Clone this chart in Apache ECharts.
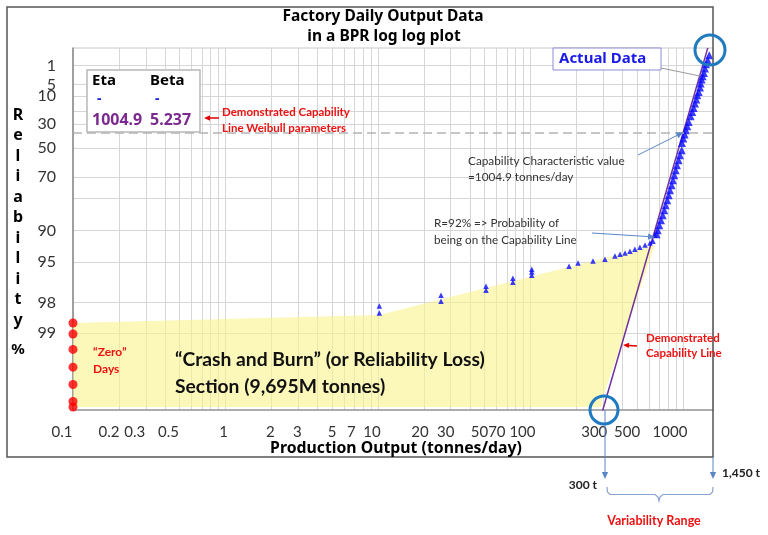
<!DOCTYPE html>
<html><head><meta charset="utf-8">
<script src="https://cdn.jsdelivr.net/npm/echarts@6/dist/echarts.min.js"></script>
<style>html,body{margin:0;padding:0;background:#fff}#c{width:768px;height:535px}</style>
</head><body><div id="c"></div>
<script>
// ---------------- data ----------------
const xGridValues = [0.1,0.2,0.3,0.4,0.5,0.6,0.7,0.8,0.9,1,2,3,4,5,6,7,8,9,10,20,30,40,50,60,70,80,90,100,200,300,400,500,600,700,800,900,1000];
const xTickLabels = [0.1,0.2,0.3,0.5,1,2,3,5,7,10,20,30,50,70,100,300,500,1000];
const yGridValues = [1,5,10,20,30,50,70,80,90,95,98,99];          // reliability %
const yTickLabels = [1,5,10,30,50,70,90,95,98,99];
// actual daily output (tonnes/day) and its plotted reliability (%)
const actualOutput = [1488,1452,1415,1394,1373,1346,1326,1306,1293,1268,1241,1223,1198,1175,1151,1123,1090,1067,1046,1026,1005,985,
  981,956,937,913,896,877,860,843,822,806,789,770,754,736,718,699,683,672,655,
  636,608,564,522,484,449,417,387,358,308,257,205,179,102,102,102,76.7,76.7,51.1,51.1,25.9,25.9,10.2,10.2];
const actualReliability = [0.295,0.554,0.873,1.362,2.055,2.727,3.544,4.746,6.195,8.088,9.712,12.08,14.53,17.49,20.37,23.64,28.2,31.75,35.1,38.72,42.07,45.71,
  51.56,55.39,59.04,62.5,65.77,68.81,71.65,74.28,76.7,78.93,80.98,82.85,84.55,86.1,87.5,88.77,89.92,90.76,90.97,
  92.1,92.4,92.7,93.05,93.35,93.64,93.9,94.05,94.3,94.7,94.9,95.1,95.45,95.74,96.0,96.28,96.52,96.82,97.1,97.35,97.63,97.93,98.15,98.42];
const zeroDayOutput = [0.1,0.1,0.1,0.1,0.1,0.1,0.1];
const zeroDayReliability = [98.74,99.02,99.31,99.54,99.69,99.79,99.815];
const lossAreaOutput = [0.1,10.15,655,294.5,294.5,0.1];
const lossAreaReliability = [98.74,98.49,92.75,99.78,99.815,99.815];
const capabilityOutput = [297,1455];
const capabilityReliability = [99.83,0.1];
const etaReliability = 36.79;
const etaValue = '1004.9', betaValue = '5.237';

// ---------------- helpers ----------------
const L10 = v => Math.log10(v);
const W = r => Math.log(-Math.log(r / 100));
const FL = 'Lato', FT = 'Noto Sans';
const xShift = {0.1:-11,0.2:-10,0.3:-11,0.5:-11,1:-2,2:-1,3:-1,5:0,7:-3,10:-6,20:-4,30:-5,50:-5,70:-10,100:-8,300:-9,500:-10,1000:-13};
const xRich = {};
xTickLabels.forEach((v,i)=>{ xRich['s'+i] = {fontFamily:FL,fontSize:15,color:'#333',padding:[0,2*Math.abs(xShift[v]||0),0,0]}; });

const chart = echarts.init(document.getElementById('c'));
const zip = (a,b,fx,fy) => a.map((v,i)=>[fx(v), fy(b[i])]);

chart.setOption({
  animation:false,
  backgroundColor:'#fff',
  grid:{left:73, top:48, right:55, bottom:125, show:true, borderColor:'#c8c8c8', borderWidth:1, outerBoundsMode:'none', containLabel:false},
  xAxis:{type:'value', min:-1, max:3.197,
    axisLine:{show:true, onZero:false, lineStyle:{color:'#9a9a9a', width:1.5}},
    axisTick:{show:false, customValues:xGridValues.map(L10)},
    splitLine:{show:true, lineStyle:{color:'#d6d6d6', width:1}},
    axisLabel:{customValues:xTickLabels.map(L10), margin:15, hideOverlap:false,
      formatter:(v)=>{ const i = xTickLabels.findIndex(t=>Math.abs(L10(t)-v)<1e-6); return i<0?'':'{s'+i+'|'+xTickLabels[i]+'}'; },
      rich:xRich, fontFamily:FL, fontSize:15, color:'#333'}
  },
  yAxis:{type:'value', min:-6.36, max:1.93,
    axisLine:{show:true, onZero:false, lineStyle:{color:'#8a8a8a', width:1.5}},
    axisTick:{show:false, customValues:yGridValues.map(W)},
    splitLine:{show:true, lineStyle:{color:'#d6d6d6', width:1}},
    axisLabel:{customValues:yTickLabels.map(W), margin:17, hideOverlap:false,
      formatter:(v)=>{ const t = yTickLabels.find(t=>Math.abs(W(t)-v)<1e-6); return t===undefined?'':String(t); },
      fontFamily:FL, fontSize:16, color:'#333'}
  },
  series:[
    {type:'custom', z:1, silent:true,
      data: zip(lossAreaOutput, lossAreaReliability, L10, W),
      renderItem:(params, api)=>{
        if (params.dataIndex !== 0) return null;
        const pts = lossAreaOutput.map((x,i)=>api.coord([L10(x), W(lossAreaReliability[i])]));
        return {type:'polygon', shape:{points:pts}, style:{fill:'rgba(249,244,140,0.6)'}};
      }},
    {type:'line', z:3, symbol:'none', silent:true,
      data: zip(capabilityOutput, capabilityReliability, L10, W),
      lineStyle:{color:'#7030A0', width:1.5},
      markLine:{symbol:'none', silent:true, label:{show:false},
        lineStyle:{color:'#b4b4b4', width:1.5, type:[9,5]},
        data:[{yAxis: W(etaReliability)}]}},
    {type:'scatter', z:4, symbol:'triangle',
      symbolSize:(d)=> d[0] > L10(660) ? 8 : 5.5,
      itemStyle:{color:'#0a0aff'},
      data: zip(actualOutput, actualReliability, L10, W)},
    {type:'scatter', z:4, symbol:'circle', symbolSize:9, clip:false,
      itemStyle:{color:'#ff0000'},
      data: zip(zeroDayOutput, zeroDayReliability, L10, W)}
  ]
});

// ---------------- annotations ----------------
function arrow(x1,y1,x2,y2,color,w,head){
  head = head||7;
  const a = Math.atan2(y2-y1, x2-x1);
  const bx = x2 - head*Math.cos(a), by = y2 - head*Math.sin(a);
  const px = -Math.sin(a)*head*0.45, py = Math.cos(a)*head*0.45;
  return [
    {type:'line', shape:{x1:x1,y1:y1,x2:bx,y2:by}, style:{stroke:color, lineWidth:w}, z:20},
    {type:'polygon', shape:{points:[[x2,y2],[bx+px,by+py],[bx-px,by-py]]}, style:{fill:color}, z:20}
  ];
}
function txt(x,y,text,opt){
  return {type:'text', x:x, y:y, z:21, style:Object.assign({text:text, fill:'#000', fontFamily:FL, fontSize:12, verticalAlign:'middle', align:'left'}, opt||{})};
}
const blueGrey = '#5b86c5';
const pEta = chart.convertToPixel({gridIndex:0}, [L10(1004.9), 0]);
const g = [];
g.push({type:'rect', shape:{x:7,y:7,width:706,height:450}, style:{fill:'none', stroke:'#555', lineWidth:1.5}, z:19});
g.push(txt(383,17,'Factory Daily Output Data',{fontFamily:FT, fontWeight:'bold', fontSize:15.5, align:'center'}));
g.push(txt(384,37,'in a BPR log log plot',{fontFamily:FT, fontWeight:'bold', fontSize:15.5, align:'center'}));
g.push(txt(396,448,'Production Output (tonnes/day)',{fontFamily:FT, fontWeight:'bold', fontSize:15.8, align:'center'}));
g.push(txt(18,105,'R\ne\nl\ni\na\nb\ni\nl\ni\nt\ny',{fontFamily:FT, fontWeight:'bold', fontSize:16, align:'center', verticalAlign:'top', lineHeight:20.5}));
g.push(txt(18,350,'%',{fontFamily:FT, fontWeight:'bold', fontSize:15, align:'center'}));
// Eta / Beta box
g.push({type:'rect', shape:{x:87,y:70,width:113,height:62}, style:{fill:'#fff', stroke:'#b8b8b8', lineWidth:1.5}, z:20});
g.push(txt(92,81,'Eta',{fontFamily:FT, fontWeight:'bold', fontSize:15}));
g.push(txt(150,81,'Beta',{fontFamily:FT, fontWeight:'bold', fontSize:15}));
g.push(txt(97,99,'-',{fontFamily:FT, fontWeight:'bold', fontSize:14, fill:'#2020d0'}));
g.push(txt(155,99,'-',{fontFamily:FT, fontWeight:'bold', fontSize:14, fill:'#2020d0'}));
g.push(txt(92,120,etaValue,{fontFamily:FT, fontWeight:'bold', fontSize:16, fill:'#7b2a8f'}));
g.push(txt(150,120,betaValue,{fontFamily:FT, fontWeight:'bold', fontSize:16, fill:'#7b2a8f'}));
g.push(...arrow(219,118,204,118,'#e00000',1.5,6));
g.push(txt(222,112,'Demonstrated Capability',{fontWeight:'bold', fontSize:11.5, fill:'#ee1111'}));
g.push(txt(222,128,'Line Weibull parameters',{fontWeight:'bold', fontSize:11.5, fill:'#ee1111'}));
// Actual data label
g.push({type:'line', shape:{x1:661,y1:68,x2:700,y2:76}, style:{stroke:'#9a9a9a', lineWidth:1}, z:20});
g.push({type:'rect', shape:{x:553,y:48,width:108,height:22}, style:{fill:'#fff', stroke:'#8c8cd8', lineWidth:1}, z:20});
g.push(txt(559,59,'Actual Data',{fontFamily:FT, fontWeight:'bold', fontSize:15, fill:'#1a1ae6'}));
// circles
g.push({type:'circle', shape:{cx:710,cy:50,r:15}, style:{fill:'none', stroke:'#1f7ac0', lineWidth:3}, z:22});
g.push({type:'circle', shape:{cx:604,cy:410,r:14}, style:{fill:'none', stroke:'#1f7ac0', lineWidth:3}, z:22});
// capability characteristic value
g.push(txt(468,161,'Capability Characteristic value',{fontSize:11.8, fill:'#333'}));
g.push(txt(468,177,'=1004.9 tonnes/day',{fontSize:11.8, fill:'#333'}));
g.push(...arrow(638,155,pEta[0],pEta[1],blueGrey,1,7));
// R=92%
g.push(txt(434,223,'R=92% => Probability of',{fontSize:11.7, fill:'#333'}));
g.push(txt(434,240,'being on the Capability Line',{fontSize:11.7, fill:'#333'}));
g.push(...arrow(592,233,655,237,blueGrey,1,7));
// demonstrated capability line label
g.push(...arrow(637,346,623,345,'#e00000',1.5,6));
g.push(txt(646,338,'Demonstrated',{fontWeight:'bold', fontSize:11.5, fill:'#ee1111'}));
g.push(txt(646,353,'Capability Line',{fontWeight:'bold', fontSize:11.5, fill:'#ee1111'}));
// zero days + crash and burn
g.push(txt(93,352,'\u201cZero\u201d',{fontWeight:'bold', fontSize:12, fill:'#ee1111'}));
g.push(txt(93,369,'Days',{fontWeight:'bold', fontSize:12, fill:'#ee1111'}));
g.push(txt(175,360,'\u201cCrash and Burn\u201d (or Reliability Loss)',{fontWeight:'bold', fontSize:19.3, fill:'#111'}));
g.push(txt(175,387,'Section (9,695M tonnes)',{fontWeight:'bold', fontSize:19.3, fill:'#111'}));
// variability range
g.push(...arrow(605,410,605,479,blueGrey,1,7));
g.push(...arrow(713,457,713,479,blueGrey,1,7));
g.push(txt(597,485,'300 t',{fontWeight:'bold', fontSize:12, align:'right', fill:'#222'}));
g.push(txt(722,473,'1,450 t',{fontWeight:'bold', fontSize:12, fill:'#222'}));
g.push({type:'polyline', shape:{points:[[607,487],[607.5,492],[610,494.5],[655,494.5],[658,497],[659,501],[660,497],[663,494.5],[710,494.5],[712.5,492],[713,487]]}, style:{fill:'none', stroke:'#8aa4d0', lineWidth:1.2}, z:20});
g.push(txt(654,521,'Variability Range',{fontWeight:'bold', fontSize:12.5, align:'center', fill:'#ee1111'}));
chart.setOption({graphic:g});
</script></body></html>
